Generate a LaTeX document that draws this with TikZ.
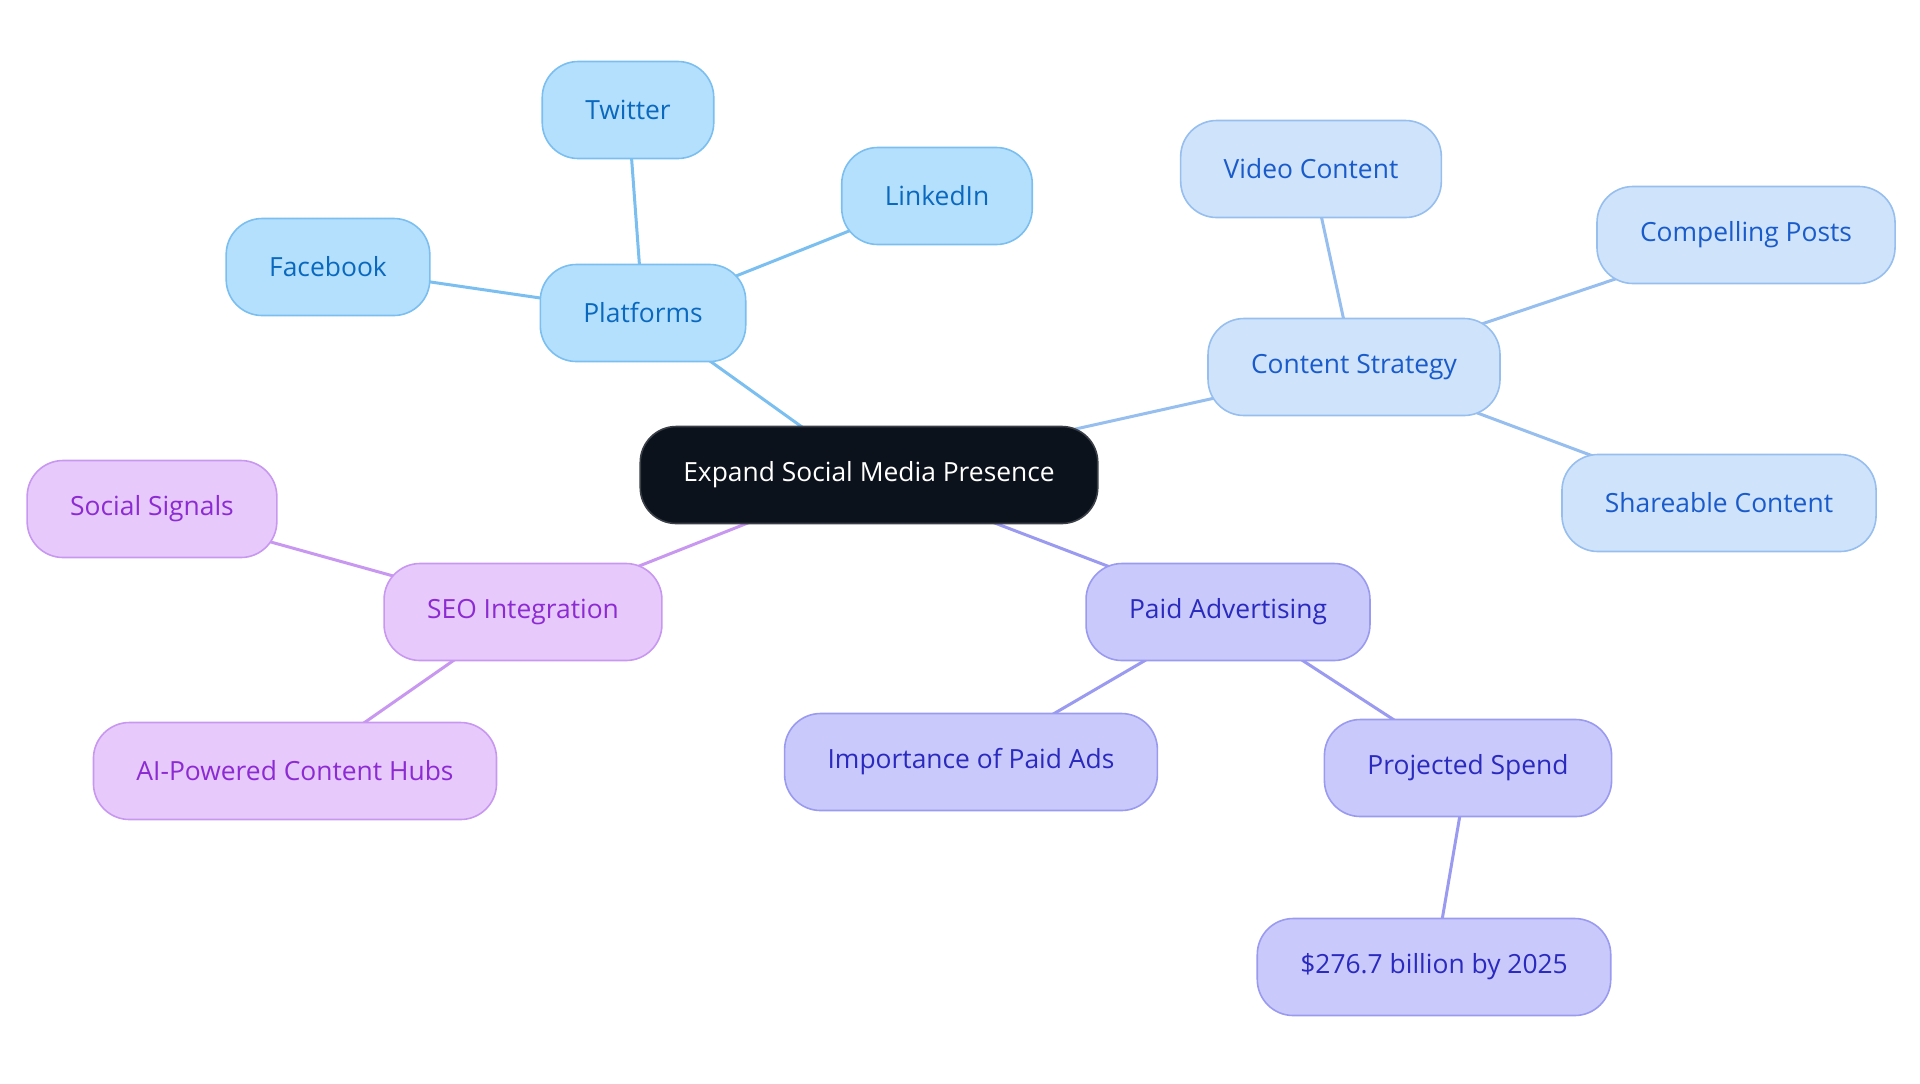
\documentclass[tikz,border=0pt]{standalone}
\usepackage{fontspec}
\setmainfont{Open Sans}
\usetikzlibrary{positioning}

\definecolor{rootfill}{HTML}{0C121C}
\definecolor{rootline}{HTML}{3A3F47}
\definecolor{platfill}{HTML}{B5E0FD}
\definecolor{platline}{HTML}{7ABFF0}
\definecolor{plattext}{HTML}{0A69BE}
\definecolor{contfill}{HTML}{CFE3FA}
\definecolor{contline}{HTML}{96BEEE}
\definecolor{conttext}{HTML}{1A5BCB}
\definecolor{paidfill}{HTML}{C9C9FC}
\definecolor{paidline}{HTML}{9A9AF0}
\definecolor{paidtext}{HTML}{2A2ABE}
\definecolor{seofill}{HTML}{E7C9FC}
\definecolor{seoline}{HTML}{C898F0}
\definecolor{seotext}{HTML}{8C2BD2}

\pgfdeclarelayer{background}
\pgfsetlayers{background,main}

\begin{document}
\begin{tikzpicture}[
    x=0.5pt, y=-0.5pt,
    every node/.style={font=\fontsize{13.2}{15}\selectfont},
    bubble/.style={draw=#1line, fill=#1fill, text=#1text, line width=0.8pt,
        rounded corners=18pt, minimum height=48.5pt, inner xsep=21.5pt},
    bubble/.default=plat,
    link/.style={draw=#1line, line width=1.5pt}
]
    \useasboundingbox (0,0) rectangle (1920,1083);

    % Centre topic
    \node[bubble=root, text=white] (root) at (869,475) {Expand Social Media Presence};

    % Platforms branch
    \node[bubble=plat] (platforms) at (643,313) {Platforms};
    \node[bubble=plat] (twitter) at (628,110) {Twitter};
    \node[bubble=plat] (linkedin) at (937,196) {LinkedIn};
    \node[bubble=plat] (facebook) at (328,267) {Facebook};

    % Content branch
    \node[bubble=cont] (content) at (1354,367) {Content Strategy};
    \node[bubble=cont] (video) at (1311,169) {Video Content};
    \node[bubble=cont] (posts) at (1746,235) {Compelling Posts};
    \node[bubble=cont] (share) at (1719,503) {Shareable Content};

    % Paid branch
    \node[bubble=paid] (paid) at (1228,612) {Paid Advertising};
    \node[bubble=paid] (importance) at (971,762) {Importance of Paid Ads};
    \node[bubble=paid] (spend) at (1468,768) {Projected Spend};
    \node[bubble=paid] (billion) at (1434,967) {\$276.7 billion by 2025};

    % SEO branch
    \node[bubble=seo] (seo) at (523,612) {SEO Integration};
    \node[bubble=seo] (signals) at (152,509) {Social Signals};
    \node[bubble=seo] (hubs) at (295,771) {AI-Powered Content Hubs};

    % Links, centre to centre behind the bubbles
    \begin{pgfonlayer}{background}
    \draw[link=plat] (root.center) -- (platforms.center);
    \draw[link=plat] (platforms.center) -- (twitter.center);
    \draw[link=plat] (platforms.center) -- (linkedin.center);
    \draw[link=plat] (platforms.center) -- (facebook.center);
    \draw[link=cont] (root.center) -- (content.center);
    \draw[link=cont] (content.center) -- (video.center);
    \draw[link=cont] (content.center) -- (posts.center);
    \draw[link=cont] (content.center) -- (share.center);
    \draw[link=paid] (root.center) -- (paid.center);
    \draw[link=paid] (paid.center) -- (importance.center);
    \draw[link=paid] (paid.center) -- (spend.center);
    \draw[link=paid] (spend.center) -- (billion.center);
    \draw[link=seo] (root.center) -- (seo.center);
    \draw[link=seo] (seo.center) -- (signals.center);
    \draw[link=seo] (seo.center) -- (hubs.center);
    \end{pgfonlayer}
\end{tikzpicture}
\end{document}
